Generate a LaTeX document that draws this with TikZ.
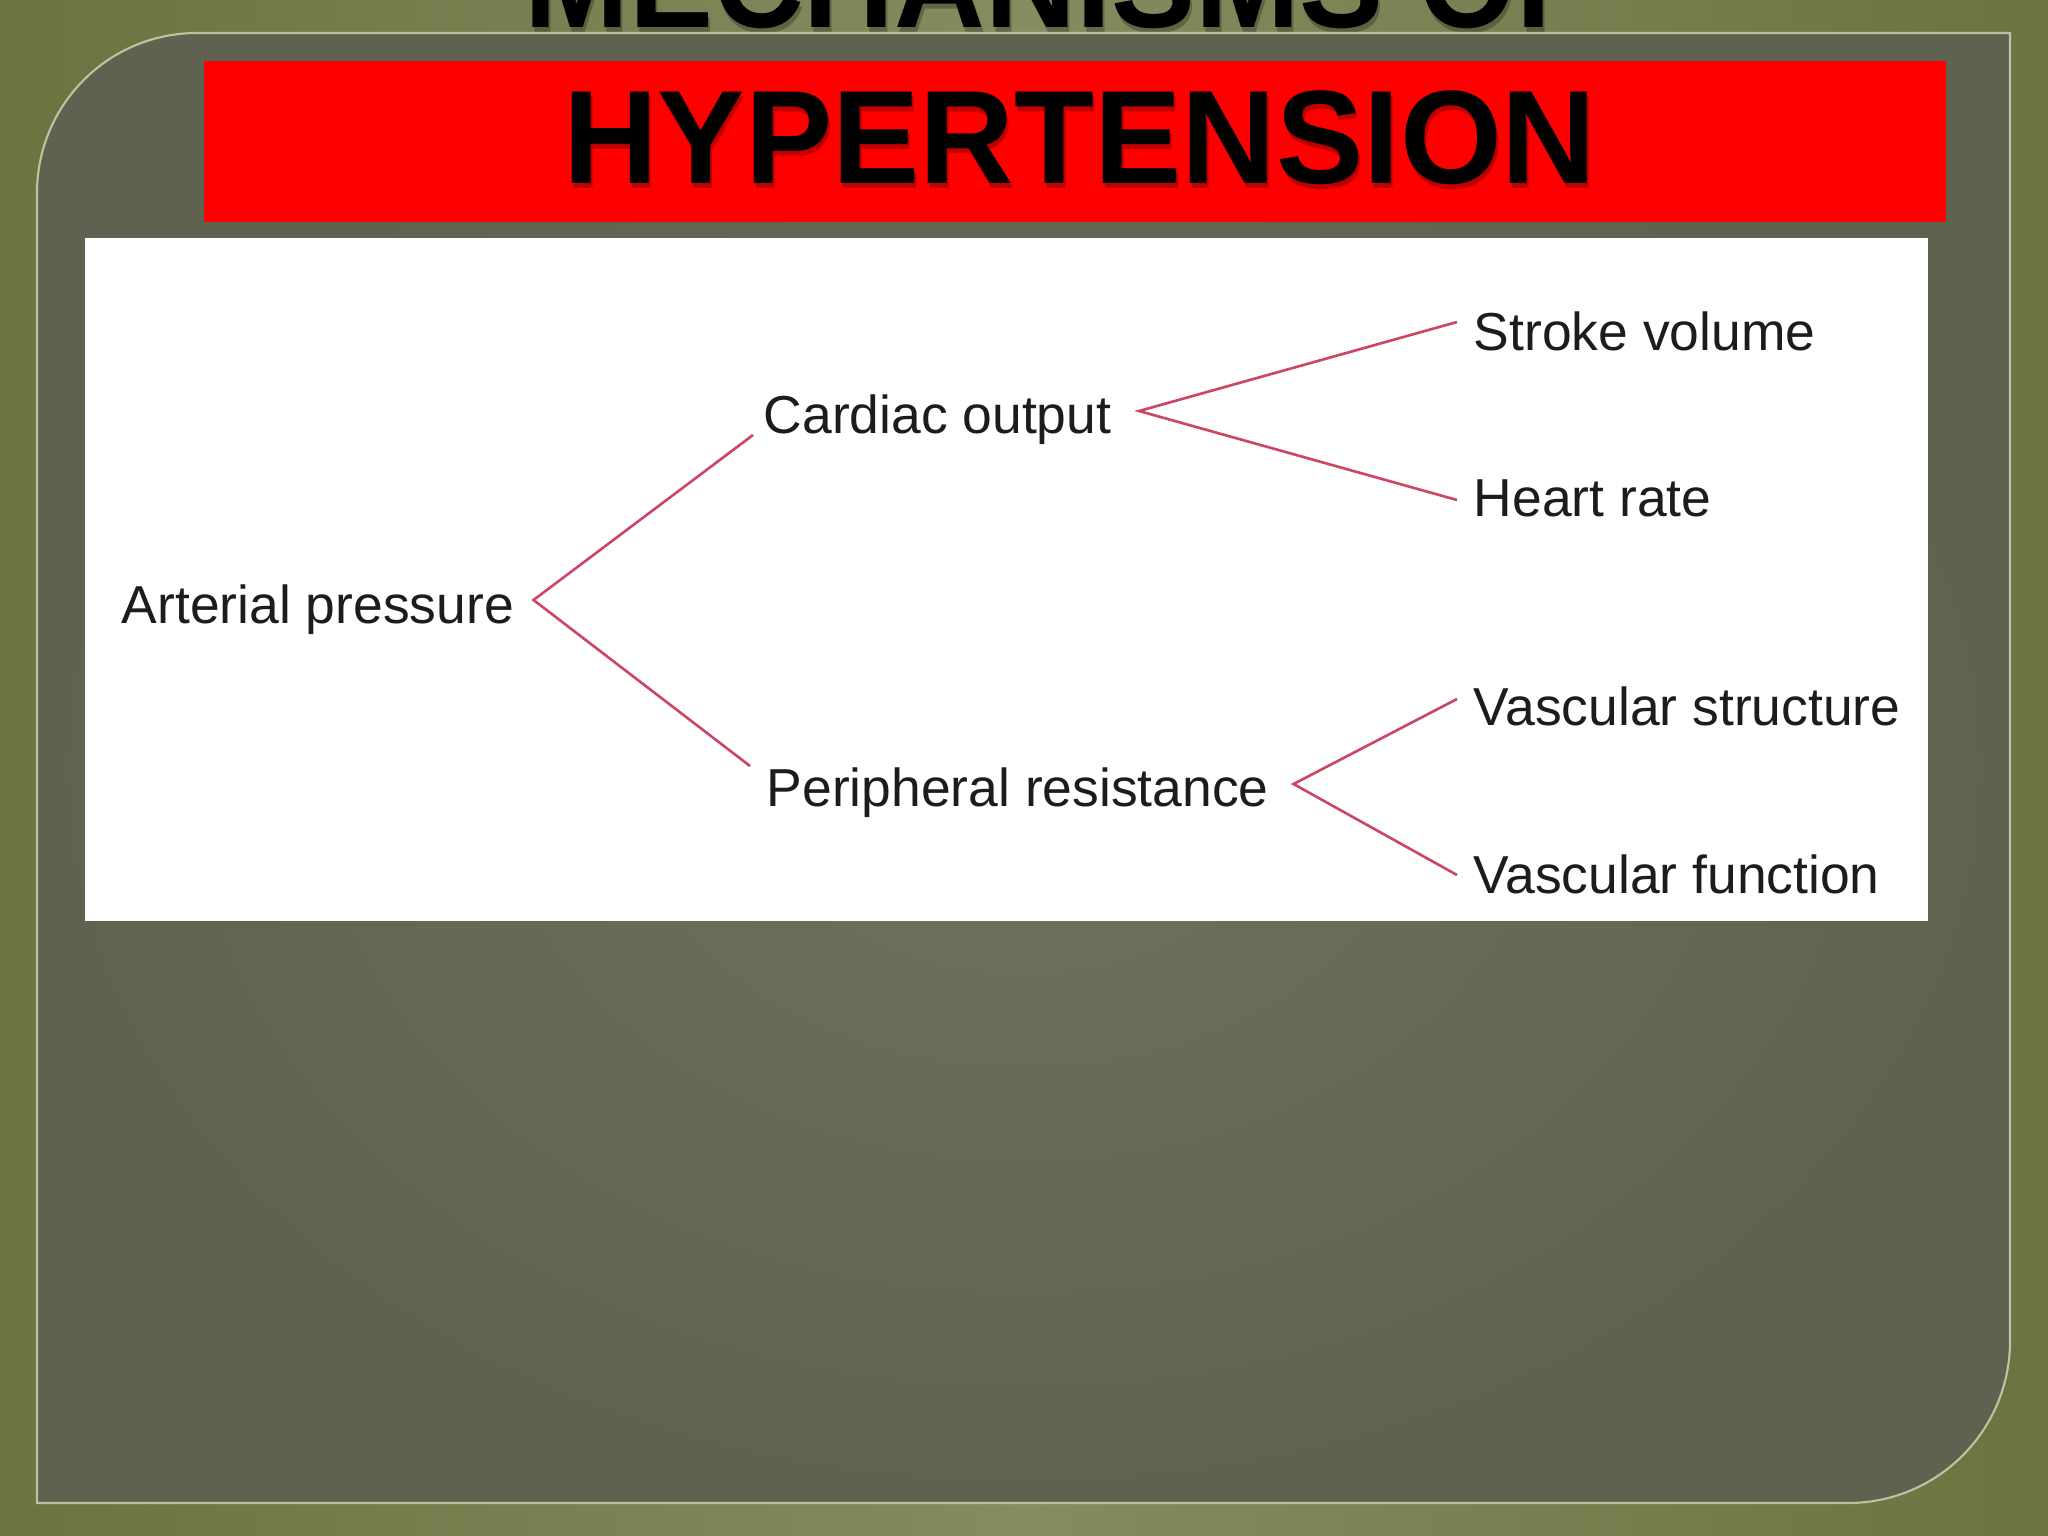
\documentclass[tikz,border=0pt]{standalone}
\usepackage{fontspec}
\setmainfont{Liberation Sans}
\usepackage{tikz}
\usetikzlibrary{calc}

\definecolor{olivebg}{RGB}{106,116,64}
\definecolor{olivemid}{RGB}{132,140,96}
\definecolor{panelout}{RGB}{95,98,79}
\definecolor{panelin}{RGB}{110,114,94}
\definecolor{panelrim}{RGB}{190,194,158}
\definecolor{branchred}{RGB}{205,70,100}
\definecolor{labelgray}{RGB}{28,28,28}

\begin{document}
\begin{tikzpicture}[
  x=0.01cm, y=-0.01cm,
  lbl/.style={inner sep=0pt, anchor=base west, text=labelgray, font=\fontsize{15.2}{18}\selectfont},
  ttl/.style={inner sep=0pt, anchor=base, font=\fontsize{37.8}{44}\selectfont\bfseries},
  ttlshadow/.style={ttl, text=black, opacity=0.25},
  branch/.style={draw=branchred, line width=0.75pt}
]
  \useasboundingbox (0,0) rectangle (2048,1536);
  \clip (0,0) rectangle (2048,1536);

  % Backdrop
  \shade[left color=olivebg, right color=olivebg, middle color=olivemid] (0,0) rectangle (2048,1536);
  \node[ttlshadow] (mechshadow) at (1061,32) {\scalebox{0.946}[1]{MECHANISMS OF}};
  \node[ttl] (mech) at (1059,27) {\scalebox{0.946}[1]{MECHANISMS OF}};
  \shade[inner color=panelin, outer color=panelout]
    (37,1503) -- (37,193) arc[start angle=180, end angle=270, radius=160]
    -- (2010,33) -- (2010,1341) arc[start angle=0, end angle=90, radius=162] -- cycle;
  \draw[panelrim, line width=0.6pt]
    (37,1503) -- (37,193) arc[start angle=180, end angle=270, radius=160]
    -- (2010,33) -- (2010,1341) arc[start angle=0, end angle=90, radius=162] -- cycle;

  % Title bar
  \fill[red] (204,61) rectangle (1946,222);
  \node[ttlshadow] (hypshadow) at (1082,188) {\scalebox{0.985}[1]{HYPERTENSION}};
  \node[ttl] (hyp) at (1080,183) {\scalebox{0.985}[1]{HYPERTENSION}};

  % Diagram card
  \fill[white] (85,238) rectangle (1928,921);

  % Nodes
  \node[lbl] (ap) at (121,623) {Arterial pressure};
  \node[lbl] (co) at (763,433) {Cardiac output};
  \node[lbl] (pr) at (766,806) {Peripheral resistance};
  \node[lbl] (sv) at (1473,350) {Stroke volume};
  \node[lbl] (hr) at (1473,516) {Heart rate};
  \node[lbl] (vs) at (1473,725) {Vascular structure};
  \node[lbl] (vf) at (1473,893) {Vascular function};

  % Flows
  \draw[branch] ($(co.base west)+(-10,2)$) -- ($(ap.base east)+(19,-23)$) -- ($(pr.base west)+(-16,-40)$);
  \draw[branch] ($(sv.base west)+(-16,-28)$) -- ($(co.base east)+(27,-22)$) -- ($(hr.base west)+(-16,-16)$);
  \draw[branch] ($(vs.base west)+(-16,-26)$) -- ($(pr.base east)+(24,-22)$) -- ($(vf.base west)+(-16,-18)$);
\end{tikzpicture}
\end{document}
